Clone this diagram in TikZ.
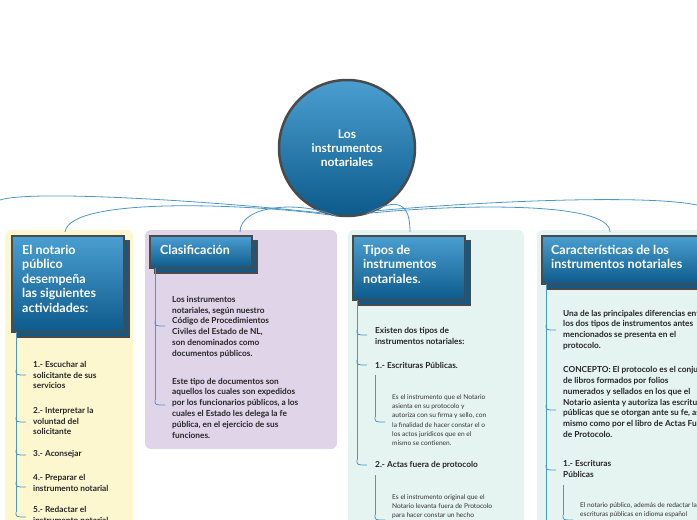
\documentclass[tikz,border=0pt]{standalone}
\usepackage{fontspec}
\setmainfont{Lato}
\usetikzlibrary{calc}
\definecolor{hdtop}{HTML}{4A9FD0}
\definecolor{hdbot}{HTML}{0D5A8C}
\definecolor{hdborder}{HTML}{4A4A4A}
\definecolor{conn}{HTML}{4A98C8}
\definecolor{yel}{HTML}{FDF7D0}
\definecolor{pur}{HTML}{E0D4E8}
\definecolor{tea}{HTML}{E5F3F1}
\tikzset{
 hdr/.style={draw=hdborder,line width=1.6pt,top color=hdtop,bottom color=hdbot},
 hdrshadow/.style={draw=hdborder,line width=1.2pt,fill=hdbot},
 htxt/.style={text=white,font=\bfseries\fontsize{12.5}{14.5}\selectfont,align=left,anchor=north west,inner sep=0pt},
 itm/.style={font=\bfseries\fontsize{8.3}{10.8}\selectfont,align=left,anchor=west,inner sep=0pt,text=black!85},
 sml/.style={font=\fontsize{6.6}{9.2}\selectfont,align=left,anchor=west,inner sep=0pt,text=black!80},
 conn/.style={draw=conn,line width=0.8pt},
 bg/.style={rounded corners=6pt},
}
\begin{document}
\begin{tikzpicture}[x=1pt,y=-1pt]
\useasboundingbox (0,0) rectangle (697,520);
% backgrounds
\fill[yel,bg] (5,230) rectangle (133,540);
\fill[pur,bg] (145,230) rectangle (337,449);
\fill[tea,bg] (348,230) rectangle (524,540);
\fill[tea,bg] (537,230) rectangle (720,540);
% central
\node[circle,minimum size=136pt,draw=hdborder,line width=2.5pt,top color=hdtop,bottom color=hdbot,text=white,font=\bfseries\fontsize{12}{14}\selectfont,align=center] (c) at (347,148) {Los\\instrumentos\\notariales};
\coordinate (e0) at (0,200);
\coordinate (e5) at (697,205);
\draw[conn] (c.250) .. controls (200,200) and (30,190) .. (e0);
\draw[conn] (c.255) .. controls (260,205) and (70,195) .. (65,232);
\draw[conn] (c.262) .. controls (300,200) and (240,205) .. (240,232);
\draw[conn] (c.285) .. controls (400,195) and (410,205) .. (410,232);
\draw[conn] (c.290) .. controls (450,205) and (610,200) .. (610,232);
\draw[conn] (c.295) .. controls (500,200) and (650,195) .. (e5);
% headers
\fill[hdrshadow] (17,241) rectangle (129,337);
\draw[hdr] (12,236) rectangle (124,332);
\node[htxt] (h1) at (22,245) {El notario\\público\\desempeña\\las siguientes\\actividades:};
\fill[hdrshadow] (155,241) rectangle (257,273);
\draw[hdr] (150,236) rectangle (252,268);
\node[htxt] (h2) at (160,245) {Clasificación};
\fill[hdrshadow] (358,241) rectangle (470,305);
\draw[hdr] (353,236) rectangle (465,300);
\node[htxt] (h3) at (363,245) {Tipos de\\instrumentos\\notariales.};
\fill[hdrshadow] (547,241) rectangle (710,289);
\draw[hdr] (542,236) rectangle (705,284);
\node[htxt] (h4) at (551,245) {Características de los\\instrumentos notariales};
% column 1
\draw[conn] (16,332) -- (16,512);
\foreach \y in {375,422,455,487,517} \draw[conn] (16,\y-5) .. controls (16,\y) .. (26,\y);
\node[itm] at (33,375) {1.- Escuchar al\\solicitante de sus\\servicios};
\node[itm] at (33,421) {2.- Interpretar la\\voluntad del\\solicitante};
\node[itm] at (33,454) {3.- Aconsejar};
\node[itm] at (33,483) {4.- Preparar el\\instrumento notarial};
\node[itm,anchor=north west] at (33,506) {5.- Redactar el\\instrumento notarial};
% column 2
\draw[conn] (155,268) -- (155,400);
\foreach \y in {326,405} \draw[conn] (155,\y-5) .. controls (155,\y) .. (165,\y);
\node[itm] at (172,327) {Los instrumentos\\notariales, según nuestro\\Código de Procedimientos\\Civiles del Estado de NL,\\son denominados como\\documentos públicos.};
\node[itm] at (172,408) {Este tipo de documentos son\\aquellos los cuales son expedidos\\por los funcionarios públicos, a los\\cuales el Estado les delega la fe\\pública, en el ejercicio de sus\\funciones.};
% column 3
\draw[conn] (357,300) -- (357,460);
\foreach \y in {335,365,465} \draw[conn] (357,\y-5) .. controls (357,\y) .. (367,\y);
\node[itm] at (375,336) {Existen dos tipos de\\instrumentos notariales:};
\node[itm] at (375,365) {1.- Escrituras Públicas.};
\node[itm] at (375,465) {2.- Actas fuera de protocolo};
\draw[conn] (375,375) -- (375,417);
\draw[conn] (375,417) .. controls (375,422) .. (385,422);
\node[sml] at (392,420) {Es el instrumento que el Notario\\asienta en su protocolo y\\autoriza con su firma y sello, con\\la finalidad de hacer constar el o\\los actos jurídicos que en el\\mismo se contienen.};
\draw[conn] (375,475) -- (375,515);
\draw[conn] (375,515) .. controls (375,520) .. (385,520);
\node[sml,anchor=north west] at (392,494) {Es el instrumento original que el\\Notario levanta fuera de Protocolo\\para hacer constar un hecho};
% column 4
\draw[conn] (546,284) -- (546,520);
\foreach \y in {330,410,470} \draw[conn] (546,\y-5) .. controls (546,\y) .. (556,\y);
\node[itm] at (563,330) {Una de las principales diferencias entre\\los dos tipos de instrumentos antes\\mencionados se presenta en el\\protocolo.};
\node[itm] at (563,402) {CONCEPTO: El protocolo es el conjunto\\de libros formados por folios\\numerados y sellados en los que el\\Notario asienta y autoriza las escrituras\\públicas que se otorgan ante su fe, así\\mismo como por el libro de Actas Fuera\\de Protocolo.};
\node[itm] at (563,469) {1.- Escrituras\\Públicas};
\draw[conn] (563,485) -- (563,515);
\draw[conn] (563,515) .. controls (563,520) .. (573,520);
\node[sml,anchor=north west] at (580,502) {El notario público, además de redactar las\\escrituras públicas en idioma español};
\end{tikzpicture}
\end{document}
